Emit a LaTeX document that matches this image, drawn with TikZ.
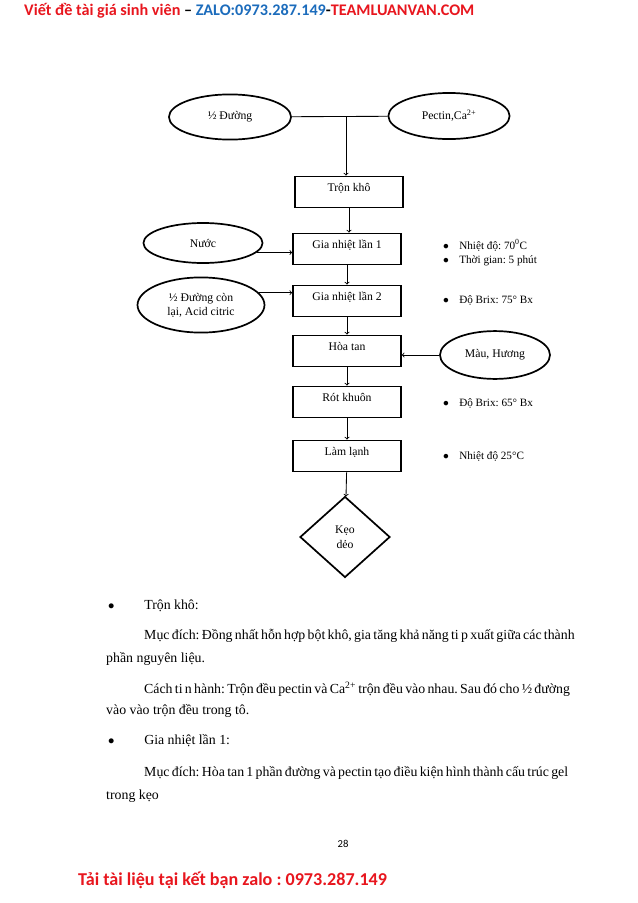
\documentclass[tikz,border=0pt]{standalone}
\usepackage{fontspec}
\setmainfont{Liberation Serif}
\newfontfamily\calibri{Carlito}
\usepackage{xcolor}
\usetikzlibrary{shapes.geometric}
\definecolor{hdred}{RGB}{232,22,30}
\definecolor{hdblue}{RGB}{28,108,188}
\newcommand\notebullet{\makebox[5.3mm][l]{$\bullet$}}
\newcommand\bodybullet{\makebox[11.9mm][l]{$\bullet$}}
\frenchspacing

\begin{document}
\begin{tikzpicture}[x=0.33mm, y=-0.33mm,
    stepbox/.style={draw, line width=1.6pt, minimum width=35.6mm, minimum height=10.3mm,
                    text depth=8pt, font=\fontsize{11}{13}\selectfont},
    input/.style={draw, ellipse, line width=1.6pt, align=center, inner sep=1pt,
                  font=\fontsize{11}{13}\selectfont},
    note/.style={anchor=base west, inner sep=0pt, font=\fontsize{10.5}{12}\selectfont},
    body/.style={anchor=base west, inner sep=0pt, font=\fontsize{13}{15}\selectfont},
    flow/.style={->, line width=0.8pt}]
            \fill[white] (0,0) rectangle (638,903);
            \useasboundingbox (0,0) rectangle (638,903);

            % page header and footer
            \node[anchor=base west, inner sep=0pt, font=\calibri\bfseries\fontsize{15.2}{17}\selectfont] (header) at (24,15)
                {\textcolor{hdred}{Viết đề tài giá sinh viên} – \textcolor{hdblue}{ZALO:0973.287.149}-\textcolor{hdred}{TEAMLUANVAN.COM}};
            \node[anchor=base, inner sep=0pt, font=\calibri\fontsize{10}{12}\selectfont] (pageno) at (343,847) {28};
            \node[anchor=base west, inner sep=0pt, font=\calibri\bfseries\fontsize{17}{19}\selectfont, text=hdred] (footer) at (78,885)
                {Tải tài liệu tại kết bạn zalo : 0973.287.149};

            % inputs
            \node[input, minimum width=40.3mm, minimum height=14.9mm] (duong) at (230,117) {½ Đường};
            \node[input, minimum width=40mm, minimum height=15.2mm] (pectin) at (449,116) {Pectin,Ca\textsuperscript{2+}};
            \node[input, minimum width=39.3mm, minimum height=13.2mm] (nuoc) at (203,243) {Nước};
            \node[input, minimum width=41.9mm, minimum height=18.2mm] (duongcon) at (201,305) {½ Đường còn\\lại, Acid citric};
            \node[input, minimum width=36.3mm, minimum height=15.8mm] (mau) at (495,355) {Màu, Hương};

            % steps
            \node[stepbox] (tronkho) at (349,192) {Trộn khô};
            \node[stepbox] (gianhiet1) at (347,249) {Gia nhiệt lần 1};
            \node[stepbox] (gianhiet2) at (347,301) {Gia nhiệt lần 2};
            \node[stepbox] (hoatan) at (347,351) {Hòa tan};
            \node[stepbox] (rotkhuon) at (347,402) {Rót khuôn};
            \node[stepbox] (lamlanh) at (347,456) {Làm lạnh};
            \node[draw, diamond, line width=1.6pt, minimum width=29.7mm, minimum height=26.7mm, inner sep=0pt,
                  align=center, font=\fontsize{11}{14}\selectfont] (keo) at (345,537) {Kẹo\\dẻo};

            % connectors
            \coordinate (join) at (346,116);
            \draw[line width=0.8pt] (duong) -- (pectin);
            \draw[flow] (join) -- (join |- tronkho.north);
            \draw[flow] (tronkho.south) -- (tronkho.south |- gianhiet1.north);
            \draw[flow] (gianhiet1) -- (gianhiet2);
            \draw[flow] (gianhiet2) -- (hoatan);
            \draw[flow] (hoatan) -- (rotkhuon);
            \draw[flow] (rotkhuon) -- (lamlanh);
            \draw[flow] (lamlanh) -- (keo);
            \draw[flow] (nuoc.-10) -- (nuoc.-10 -| gianhiet1.west);
            \draw[flow] (duongcon.12) -- (duongcon.12 -| gianhiet2.west);
            \draw[flow] (mau.west) -- (mau.west -| hoatan.east);

            % notes
            \node[note] (note1) at (443,249) {\notebullet Nhiệt độ: 70\textsuperscript{0}C};
            \node[note] (note2) at (443,263) {\notebullet Thời gian: 5 phút};
            \node[note] (note3) at (443,303) {\notebullet Độ Brix: 75° Bx};
            \node[note] (note4) at (443,406) {\notebullet Độ Brix: 65° Bx};
            \node[note] (note5) at (443,459) {\notebullet Nhiệt độ 25°C};

            % text below
            \node[body] (line1) at (108,609) {\bodybullet Trộn khô:};
            \node[body] (line2) at (144,639) {\makebox[137.9mm][s]{Mục đích: Đồng nhất hỗn hợp bột khô, gia tăng khả năng ti p xuất giữa các thành}};
            \node[body] (line3) at (106,662) {phần nguyên liệu.};
            \node[body] (line4) at (144,693) {\makebox[137.6mm][s]{Cách ti n hành: Trộn đều pectin và Ca\textsuperscript{2+} trộn đều vào nhau. Sau đó cho ½ đường}};
            \node[body] (line5) at (106,714) {vào vào trộn đều trong tô.};
            \node[body] (line6) at (108,744) {\bodybullet Gia nhiệt lần 1:};
            \node[body] (line7) at (144,776) {\makebox[136mm][s]{Mục đích: Hòa tan 1 phần đường và pectin tạo điều kiện hình thành cấu trúc gel}};
            \node[body] (line8) at (106,799) {trong kẹo};
        \end{tikzpicture}
\end{document}
